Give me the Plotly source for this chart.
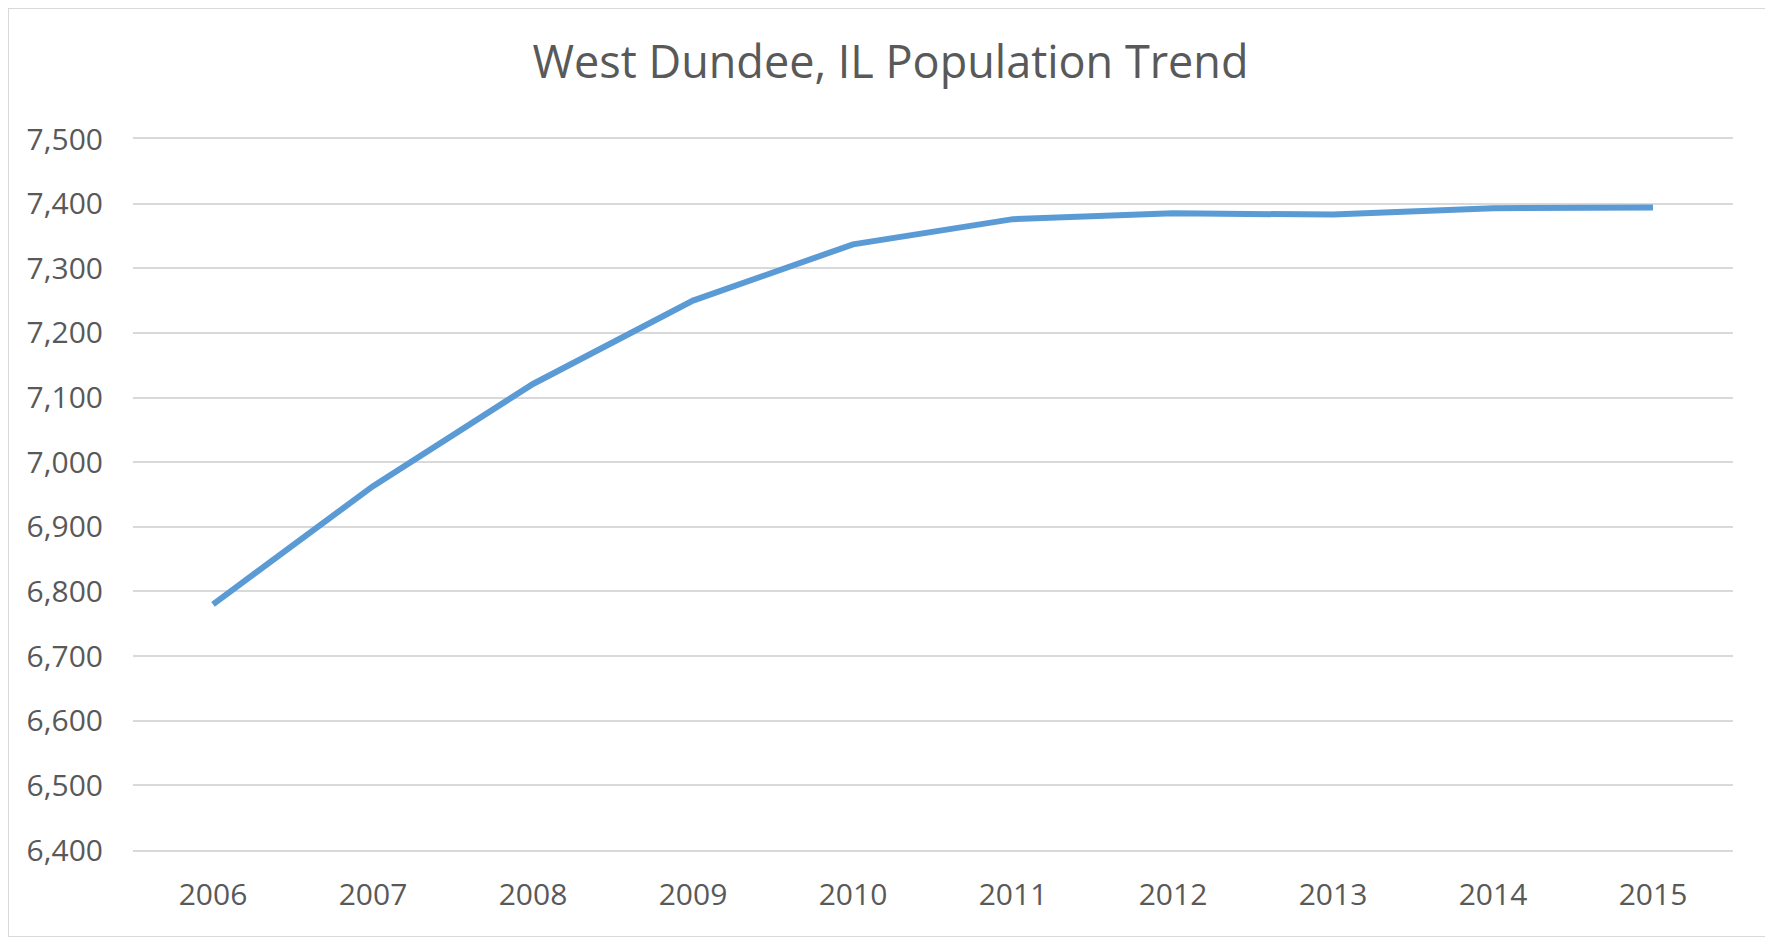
import plotly.graph_objects as go

# West Dundee population by year
years = ['2006', '2007', '2008', '2009', '2010', '2011', '2012', '2013', '2014', '2015']
population = [6780, 6963, 7121, 7250, 7337, 7376, 7385, 7383, 7393, 7394]

y_ticks = list(range(6400, 7501, 100))

# page body has an 8px margin, so the figure is made 8px smaller
W, H = 1765, 929

fig = go.Figure()
fig.add_trace(go.Scatter(
    x=years, y=population,
    mode='lines',
    line=dict(color='#5b9bd5', width=6),
    hoverinfo='x+y',
))

fig.update_layout(
    width=W, height=H,
    paper_bgcolor='white', plot_bgcolor='white',
    margin=dict(l=125, r=40, t=131, b=87),
    showlegend=False,
    font=dict(family='Open Sans', color='#595959'),
    title=dict(text='West Dundee, IL Population Trend',
               x=0.5, xanchor='center', y=1 - 54 / H, yanchor='middle',
               font=dict(size=45, color='#595959')),
)

fig.update_xaxes(
    type='category', range=[-0.5, 9.5],
    showgrid=False, showline=True, mirror=True,
    linecolor='#d9d9d9', linewidth=2,
    ticks='', tickfont=dict(size=30, color='#595959'),
    ticklabelstandoff=17,
)
fig.update_yaxes(
    range=[6400, 7500], tickvals=y_ticks, tickformat=',d',
    showgrid=True, gridcolor='#d9d9d9', gridwidth=2,
    zeroline=False, showline=False,
    ticks='', tickfont=dict(size=30, color='#595959'),
    ticklabelstandoff=29,
)

# thin light border around the whole chart area
fig.add_shape(type='rect', xref='paper', yref='paper',
              x0=-125 / (W - 165), x1=1 + 40 / (W - 165),
              y0=-87 / (H - 218), y1=1 + 131 / (H - 218),
              line=dict(color='#d9d9d9', width=2), layer='below')

fig.write_html("out.html")
